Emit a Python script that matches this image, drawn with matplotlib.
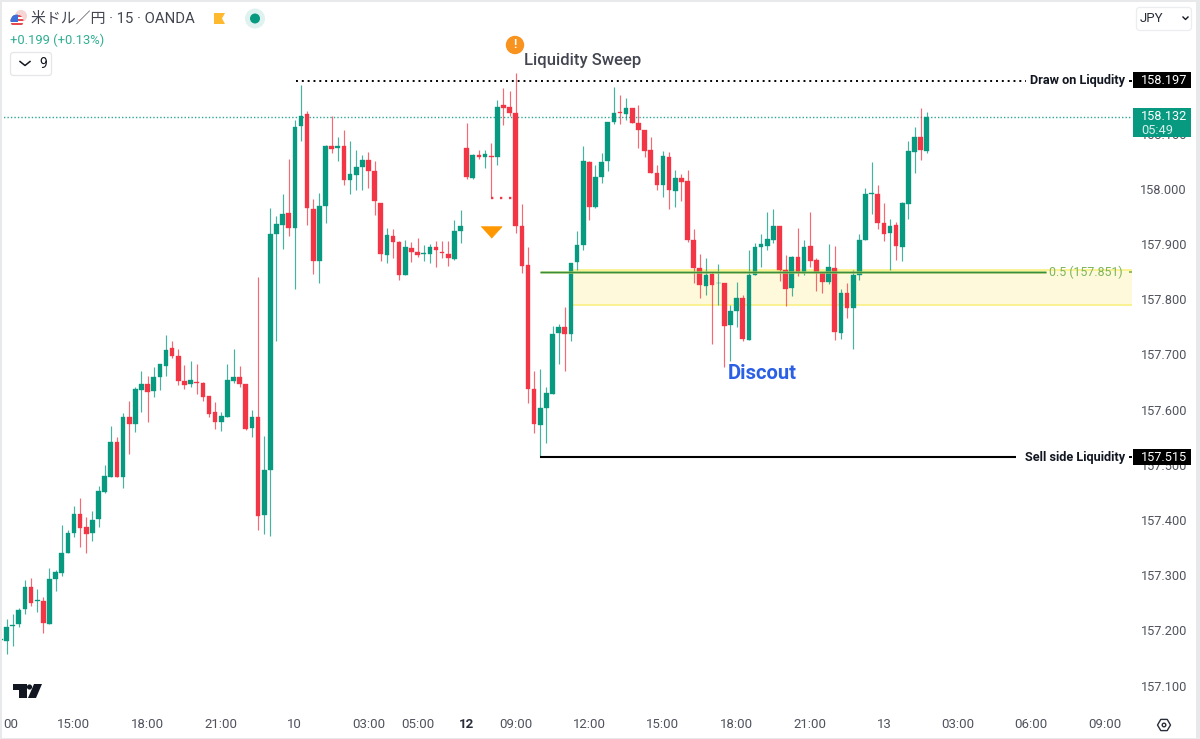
import numpy as np
import matplotlib
matplotlib.use('Agg')
import matplotlib.pyplot as plt
from matplotlib.patches import Circle, Rectangle, FancyBboxPatch, Polygon

plt.rcParams['font.family'] = ['Roboto', 'Noto Sans CJK JP', 'DejaVu Sans']

# 15 minute candles, index 0 is the 15:00 bar
first_bar = -12
opens = [
    157.184, 157.182, 157.210, 157.213, 157.240, 157.280, 157.255, 157.255, 157.213, 157.294, 157.305, 157.341,
    157.377, 157.413, 157.388, 157.378, 157.403, 157.452, 157.480, 157.542, 157.480, 157.588, 157.576, 157.636,
    157.647, 157.635, 157.661, 157.680, 157.713, 157.698, 157.653, 157.647, 157.651, 157.650, 157.625, 157.596,
    157.578, 157.588, 157.653, 157.660, 157.648, 157.568, 157.588, 157.410, 157.491, 157.919, 157.936, 157.957,
    157.931, 158.115, 158.137, 157.964, 157.871, 157.970, 158.078, 158.075, 158.079, 158.018, 158.026, 158.041,
    158.054, 158.033, 157.976, 157.881, 157.916, 157.905, 157.845, 157.894, 157.886, 157.884, 157.883, 157.895,
    157.886, 157.884, 157.874, 157.925, 158.076, 158.021, 158.062, 158.059, 158.060, 158.058, 158.153, 158.149,
    158.138, 157.933, 157.863, 157.638, 157.574, 157.604, 157.630, 157.740, 157.750, 157.738, 157.869, 157.900,
    158.050, 157.968, 158.022, 158.052, 158.122, 158.140, 158.137, 158.147, 158.120, 158.108, 158.072, 158.030,
    158.008, 158.059, 157.998, 158.021, 158.015, 157.908, 157.857, 157.825, 157.847, 157.830, 157.830, 157.755,
    157.779, 157.803, 157.728, 157.846, 157.896, 157.898, 157.909, 157.934, 157.854, 157.822, 157.878, 157.848,
    157.898, 157.872, 157.848, 157.832, 157.857, 157.740, 157.813, 157.785, 157.846, 157.909, 157.991, 157.992,
    157.940, 157.921, 157.936, 157.896, 157.974, 158.068, 158.096, 158.070,
]
closes = [
    157.185, 157.208, 157.211, 157.238, 157.280, 157.250, 157.256, 157.214, 157.294, 157.307, 157.341, 157.378,
    157.413, 157.387, 157.375, 157.401, 157.453, 157.481, 157.542, 157.480, 157.588, 157.576, 157.639, 157.647,
    157.634, 157.660, 157.683, 157.709, 157.698, 157.653, 157.646, 157.655, 157.649, 157.624, 157.594, 157.579,
    157.590, 157.655, 157.660, 157.648, 157.567, 157.587, 157.409, 157.491, 157.919, 157.937, 157.956, 157.930,
    158.113, 158.133, 157.967, 157.870, 157.970, 158.078, 158.073, 158.078, 158.017, 158.028, 158.040, 158.053,
    158.033, 157.979, 157.883, 157.918, 157.904, 157.845, 157.895, 157.886, 157.881, 157.885, 157.896, 157.890,
    157.885, 157.875, 157.924, 157.933, 158.022, 158.063, 158.058, 158.064, 158.059, 158.149, 158.148, 158.138,
    157.933, 157.861, 157.638, 157.576, 157.604, 157.631, 157.738, 157.751, 157.739, 157.866, 157.899, 158.052,
    157.968, 158.023, 158.050, 158.123, 158.139, 158.139, 158.147, 158.120, 158.108, 158.070, 158.030, 158.008,
    158.060, 157.999, 158.020, 158.014, 157.908, 157.858, 157.827, 157.846, 157.827, 157.831, 157.752, 157.780,
    157.803, 157.730, 157.846, 157.896, 157.901, 157.910, 157.934, 157.854, 157.820, 157.878, 157.851, 157.896,
    157.870, 157.848, 157.832, 157.859, 157.741, 157.813, 157.785, 157.845, 157.909, 157.991, 157.994, 157.939,
    157.920, 157.934, 157.898, 157.975, 158.070, 158.095, 158.072, 158.132,
]
highs = [
    157.186, 157.221, 157.231, 157.242, 157.293, 157.297, 157.276, 157.262, 157.314, 157.311, 157.393, 157.383,
    157.427, 157.441, 157.406, 157.418, 157.463, 157.501, 157.572, 157.552, 157.595, 157.617, 157.642, 157.671,
    157.662, 157.678, 157.683, 157.737, 157.725, 157.711, 157.682, 157.689, 157.683, 157.651, 157.625, 157.615,
    157.597, 157.683, 157.711, 157.680, 157.648, 157.601, 157.841, 157.553, 157.966, 157.952, 157.991, 158.055,
    158.126, 158.189, 158.142, 157.982, 157.994, 158.081, 158.133, 158.095, 158.107, 158.087, 158.072, 158.063,
    158.068, 158.051, 157.976, 157.931, 157.928, 157.906, 157.908, 157.904, 157.913, 157.899, 157.901, 157.906,
    157.906, 157.907, 157.945, 157.963, 158.120, 158.064, 158.072, 158.072, 158.085, 158.162, 158.184, 158.178,
    158.211, 157.973, 157.896, 157.671, 157.674, 157.643, 157.752, 157.756, 157.787, 157.866, 157.924, 158.078,
    158.052, 158.045, 158.067, 158.123, 158.186, 158.171, 158.166, 158.148, 158.153, 158.108, 158.095, 158.044,
    158.070, 158.068, 158.035, 158.028, 158.035, 157.928, 157.884, 157.875, 157.851, 157.865, 157.830, 157.791,
    157.833, 157.809, 157.890, 157.903, 157.919, 157.960, 157.964, 157.934, 157.881, 157.880, 157.930, 157.909,
    157.960, 157.875, 157.850, 157.901, 157.898, 157.819, 157.830, 157.854, 157.919, 158.002, 158.050, 158.009,
    157.976, 157.946, 157.941, 157.978, 158.087, 158.113, 158.147, 158.141,
]
lows = [
    157.182, 157.159, 157.173, 157.208, 157.231, 157.246, 157.235, 157.196, 157.213, 157.273, 157.299, 157.341,
    157.371, 157.353, 157.341, 157.364, 157.389, 157.450, 157.480, 157.480, 157.460, 157.520, 157.561, 157.596,
    157.578, 157.624, 157.637, 157.663, 157.694, 157.645, 157.639, 157.643, 157.630, 157.617, 157.588, 157.566,
    157.563, 157.588, 157.650, 157.643, 157.564, 157.551, 157.383, 157.375, 157.373, 157.726, 157.893, 157.916,
    157.820, 158.088, 157.936, 157.847, 157.831, 157.939, 158.066, 158.052, 158.009, 157.991, 157.999, 157.999,
    158.003, 157.953, 157.871, 157.866, 157.875, 157.836, 157.845, 157.869, 157.877, 157.871, 157.867, 157.859,
    157.876, 157.862, 157.872, 157.903, 158.019, 158.019, 158.055, 158.039, 157.984, 158.045, 158.116, 158.134,
    157.922, 157.848, 157.613, 157.558, 157.516, 157.540, 157.630, 157.684, 157.672, 157.726, 157.855, 157.890,
    157.945, 157.966, 158.012, 158.034, 158.118, 158.118, 158.126, 158.120, 158.076, 158.059, 158.029, 157.999,
    157.987, 157.965, 157.969, 157.979, 157.905, 157.831, 157.803, 157.809, 157.720, 157.791, 157.678, 157.689,
    157.751, 157.726, 157.728, 157.846, 157.860, 157.891, 157.903, 157.835, 157.789, 157.807, 157.844, 157.846,
    157.860, 157.816, 157.813, 157.828, 157.727, 157.730, 157.767, 157.711, 157.836, 157.909, 157.955, 157.928,
    157.907, 157.855, 157.873, 157.871, 157.946, 158.029, 158.053, 158.067,
]

price_ticks = [157.1, 157.2, 157.3, 157.4, 157.5, 157.6, 157.7, 157.8, 157.9, 158.0, 158.1]
time_ticks = [0, 12, 24, 36, 48, 56, 64, 72, 84, 96, 108, 120, 132, 144, 156, 168]
time_labels = ['15:00', '18:00', '21:00', '10', '03:00', '05:00', '12', '09:00',
               '12:00', '15:00', '18:00', '21:00', '13', '03:00', '06:00', '09:00']
bold_labels = ['12']

draw_level = 158.197
last_price = 158.132
sell_level = 157.515
mid_level = 157.851
zone_top = 157.855
zone_bottom = 157.791
sweep_level = 157.984

GREEN = '#089981'
RED = '#F23645'
TEXT = '#50535E'

fig = plt.figure(figsize=(12, 7.39), dpi=100, facecolor='white')
ax = fig.add_axes([0, 0, 1, 1])
ax.set_xlim(-12.06, 183.53)
ax.set_ylim(157.0045, 158.3433)
ax.axis('off')

# Candles
o = np.array(opens)
c = np.array(closes)
x = np.arange(first_bar, first_bar + len(o))
colors = np.where(c >= o, GREEN, RED)
ax.add_patch(Rectangle((81.2, zone_bottom), 172.5 - 81.2, zone_top - zone_bottom, facecolor='#FFF9DC',
                       edgecolor='none', zorder=1))
ax.vlines(x, lows, highs, colors=list(colors), linewidth=0.85, alpha=0.75, zorder=2)
ax.bar(x, np.abs(c - o), bottom=np.minimum(o, c), width=0.76, color=list(colors),
       edgecolor=list(colors), linewidth=0.25, zorder=3)

# Drawings
ax.hlines(zone_top, 81.2, 172.5, color='#F9EF7A', linewidth=1.1, zorder=1.5)
ax.hlines(zone_bottom, 81.2, 172.5, color='#F9EF7A', linewidth=1.1, zorder=1.5)
ax.hlines(mid_level, 76.0, 158.4, color='#9CCC65', linewidth=2.0, alpha=0.8, zorder=4)
ax.hlines(mid_level, 76.0, 158.4, color='#3C8C40', linewidth=0.9, zorder=4.5)
ax.hlines(mid_level, 172.0, 172.5, color='#7CB342', linewidth=1.2, zorder=4)
ax.hlines(last_price, -12.06, 172.5, color=GREEN, linewidth=1.0, linestyle=(0, (1, 1.5)), alpha=0.85, zorder=1)
ax.hlines(draw_level, 36.2, 155.2, color='black', linewidth=1.4, linestyle=(0, (1, 2)), zorder=5)
ax.hlines(draw_level, 172.0, 172.5, color='black', linewidth=1.4, zorder=5)
ax.hlines(sell_level, 76.0, 153.6, color='black', linewidth=1.5, zorder=5)
ax.hlines(sell_level, 172.0, 172.5, color='black', linewidth=1.4, zorder=5)
ax.hlines(sweep_level, 68, 71.6, color=RED, linewidth=1.7, linestyle=(0, (1, 2.8)), zorder=3)
flat_triangle = [(-1, 0.55), (1, 0.55), (0, -0.55)]
ax.scatter([68], [157.923], marker=flat_triangle, s=225, color='#FF9800', linewidths=0.6, zorder=5)

# Everything below sits in image pixels
ov = fig.add_axes([0, 0, 1, 1])
ov.set_xlim(0, 1200)
ov.set_ylim(739, 0)
ov.axis('off')
ov.patch.set_alpha(0)

ov.text(1125, 80.5, 'Draw on Liqudity', ha='right', va='center', fontsize=9.2, fontweight='bold', color='#131722')
ov.text(1125, 457.5, 'Sell side Liquidity', ha='right', va='center', fontsize=9.2, fontweight='bold', color='#131722')
ov.text(1123, 272, '0.5 (157.851)', ha='right', va='center', fontsize=8.9, color='#7CB55A')
ov.text(524, 61, 'Liquidity Sweep', ha='left', va='center', fontsize=12, fontweight='medium', color='#434651')
ov.text(728, 373.5, 'Discout', ha='left', va='center', fontsize=14.6, fontweight='bold', color='#2B5FE6')

# Warning badge
ov.add_patch(Circle((515, 45), 8.5, color='#F7931E', zorder=3))
ov.text(515, 45, '!', ha='center', va='center', fontsize=8.5, fontweight='bold', color='white', zorder=4)

# Price scale
for p in price_ticks:
    y_px = 189.5 + (158.0 - p) * 552
    ov.text(1187, y_px + 0.8, f'{p:.3f}', ha='right', va='center', fontsize=9.2, color=TEXT)

for y0, y1, col, lines in [(72, 88, 'black', ['158.197']), (108, 137, GREEN, ['158.132', '05:49']),
                           (449, 465, 'black', ['157.515'])]:
    ov.add_patch(Rectangle((1133, y0), 58, y1 - y0, facecolor=col, edgecolor='none', zorder=3))
    for k, line in enumerate(lines):
        ov.text(1141, y0 + 8.5 + 14 * k, line, ha='left', va='center', fontsize=9.2,
                color='white' if k == 0 else '#D5F0EA', zorder=4)

# Time scale
ov.text(3, 725, '00', ha='left', va='center', fontsize=9.5, color=TEXT)
for t, lab in zip(time_ticks, time_labels):
    x_px = 74 + t * 6.135
    ov.text(x_px, 725, lab, ha='center', va='center', fontsize=9.5, color=TEXT if lab not in bold_labels else '#2A2E39',
            fontweight='bold' if lab in bold_labels else 'normal')

# Header
ov.text(31, 18.5, '米ドル／円 · 15 · OANDA', ha='left', va='center', fontsize=10.75, color='#434651',
        family=['Roboto', 'Noto Sans CJK JP', 'DejaVu Sans'])
ov.text(10, 40, '+0.199 (+0.13%)', ha='left', va='center', fontsize=9.4, color='#2FAE92')
ov.add_patch(FancyBboxPatch((12, 54), 38, 20, boxstyle='round,pad=1.5,rounding_size=3', facecolor='white',
                            edgecolor='#E4E6EA', linewidth=0.9))
ov.plot([20, 25, 30], [61.5, 65.5, 61.5], color='#131722', linewidth=1.1)
ov.text(43, 64, '9', ha='center', va='center', fontsize=10, color='#131722')

# Flag pair icon
ov.add_patch(Circle((21, 16), 6.5, facecolor='#F6D5D5', edgecolor='white', linewidth=0.6))
us = Circle((17, 21), 6.5, facecolor='white', edgecolor='none')
ov.add_patch(us)
for yy in (16, 20, 24):
    st = ov.add_patch(Rectangle((10, yy - 1), 14, 2, facecolor='#E5484D', edgecolor='none'))
    st.set_clip_path(us)
bl = ov.add_patch(Rectangle((10, 14), 7.5, 7.5, facecolor='#3D6FD9', edgecolor='none'))
bl.set_clip_path(us)

# Session flag and status dot
ov.add_patch(Polygon([(214, 13), (225, 13), (222, 18.5), (225, 24), (214, 24)], facecolor='#FFB92E', edgecolor='none'))
ov.add_patch(Circle((255, 18.5), 10, facecolor='#E0F2EF', edgecolor='none'))
ov.add_patch(Circle((255, 18.5), 5, facecolor=GREEN, edgecolor='none'))

# Currency box
ov.add_patch(FancyBboxPatch((1138, 9), 52, 20, boxstyle='round,pad=1.5,rounding_size=3', facecolor='white',
                            edgecolor='#ECEDF0', linewidth=0.9))
ov.text(1140, 18.5, 'JPY', ha='left', va='center', fontsize=9.5, color='#2A2E39')
ov.plot([1183, 1185.5, 1188], [17, 19.5, 17], color='#131722', linewidth=1.0)

# Logo
ov.add_patch(Polygon([(13, 684), (27, 684), (27, 698), (19, 698), (19, 690), (13, 690)], facecolor='#131722',
                     edgecolor='none'))
ov.add_patch(Circle((29.5, 687), 2.6, facecolor='#131722', edgecolor='none'))
ov.add_patch(Polygon([(34, 684), (42, 684), (36, 698), (28, 698)], facecolor='#131722', edgecolor='none'))

# Settings gear
ov.add_patch(Polygon([(1170.5, 725), (1167.2, 730.6), (1160.8, 730.6), (1157.5, 725), (1160.8, 719.4), (1167.2, 719.4)],
                     facecolor='none', edgecolor='#2A2E39', linewidth=1.0, joinstyle='round'))
ov.add_patch(Circle((1164, 725), 1.8, facecolor='none', edgecolor='#2A2E39', linewidth=1.0))

# Window edges
for rect in [(0, 0, 2, 739), (0, 0, 1200, 2), (1196, 0, 4, 739), (0, 737.5, 1200, 1.5)]:
    ov.add_patch(Rectangle(rect[:2], rect[2], rect[3], facecolor='#E8E9EB', edgecolor='none', zorder=8))

fig.savefig('out.png', dpi=100)
plt.close(fig)
